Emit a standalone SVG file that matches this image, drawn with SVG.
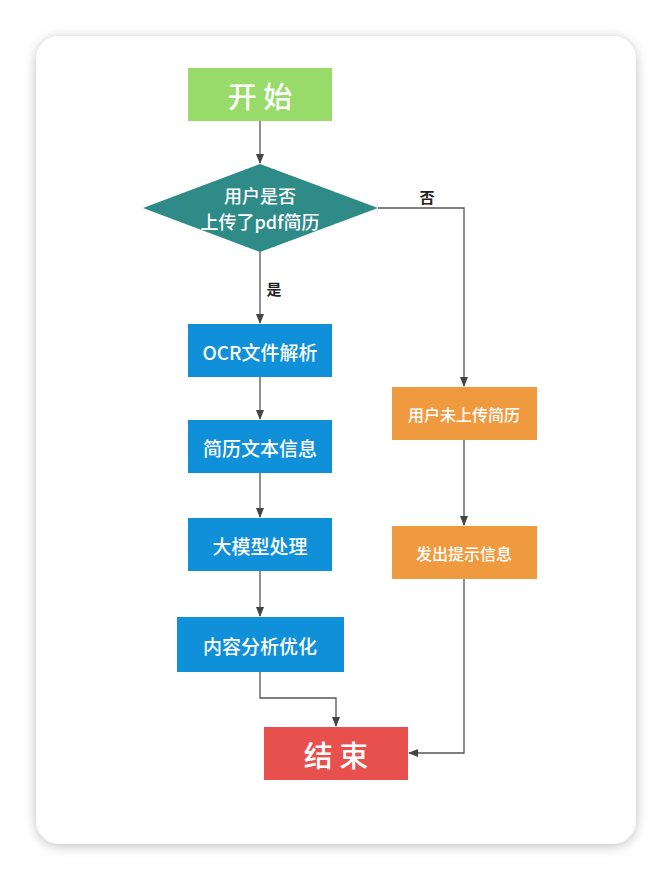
<svg xmlns="http://www.w3.org/2000/svg" width="672" height="880" viewBox="0 0 672 880">
<defs>
<filter id="sh" x="-10%" y="-10%" width="120%" height="120%"><feDropShadow dx="0" dy="2" stdDeviation="6" flood-color="#000" flood-opacity="0.25"/></filter>
<marker id="ar" viewBox="0 0 10 10" refX="9" refY="5" markerWidth="8" markerHeight="8" orient="auto-start-reverse"><path d="M0,1 L10,5 L0,9 z" fill="#444"/></marker>
<style>
.t{font-family:"Noto Sans CJK SC","Noto Sans",sans-serif;fill:#fff;text-anchor:middle;dominant-baseline:central;font-weight:500}
.m{font-size:19px}
.d{font-size:18px}
.b{font-size:29px}
.c{fill:none;stroke:#555;stroke-width:1.3;marker-end:url(#ar)}
.l{font-family:"Noto Sans CJK SC",sans-serif;font-size:15px;fill:#222;text-anchor:middle;dominant-baseline:central;font-weight:bold}
.blue{fill:#0F90D8}.or{fill:#F09A3F}
</style>
</defs>
<rect width="672" height="880" fill="#fff"/>
<rect x="36" y="36" width="600" height="808" rx="24" fill="#fff" filter="url(#sh)"/>
<g id="connectors">
<path class="c" d="M260,121 V163"/>
<path class="c" d="M260,252 V323"/>
<path class="c" d="M378,208 H464 V386"/>
<path class="c" d="M260,377 V419"/>
<path class="c" d="M260,473 V517"/>
<path class="c" d="M260,571 V616"/>
<path class="c" d="M260,672 V698 H336 V726"/>
<path class="c" d="M464,440 V525"/>
<path class="c" d="M464,579 V753 H409"/>
<text class="l" x="274" y="288">是</text>
<text class="l" x="427" y="196">否</text>
</g>
<g id="start"><rect x="188" y="68" width="144" height="53" fill="#98DB6A"/><text class="t b" x="260" y="95">开 始</text></g>
<g id="decision"><polygon points="143,208 260,164 378,208 260,252" fill="#2E8B87"/><text class="t d" x="260" y="195">用户是否</text><text class="t d" x="260" y="221">上传了pdf简历</text></g>
<g id="ocr"><rect class="blue" x="188" y="324" width="144" height="53"/><text class="t m" x="260" y="351">OCR文件解析</text></g>
<g id="text"><rect class="blue" x="188" y="420" width="144" height="53"/><text class="t m" x="260" y="447">简历文本信息</text></g>
<g id="llm"><rect class="blue" x="188" y="518" width="144" height="53"/><text class="t m" x="260" y="545">大模型处理</text></g>
<g id="opt"><rect class="blue" x="177" y="617" width="167" height="55"/><text class="t m" x="260" y="645">内容分析优化</text></g>
<g id="noupload"><rect class="or" x="392" y="387" width="145" height="53"/><text class="t" style="font-size:16px" x="464" y="414">用户未上传简历</text></g>
<g id="tip"><rect class="or" x="392" y="526" width="145" height="53"/><text class="t" style="font-size:16px" x="464" y="553">发出提示信息</text></g>
<g id="end"><rect x="264" y="727" width="144" height="53" fill="#E8504E"/><text class="t b" x="336" y="754">结 束</text></g>
</svg>
